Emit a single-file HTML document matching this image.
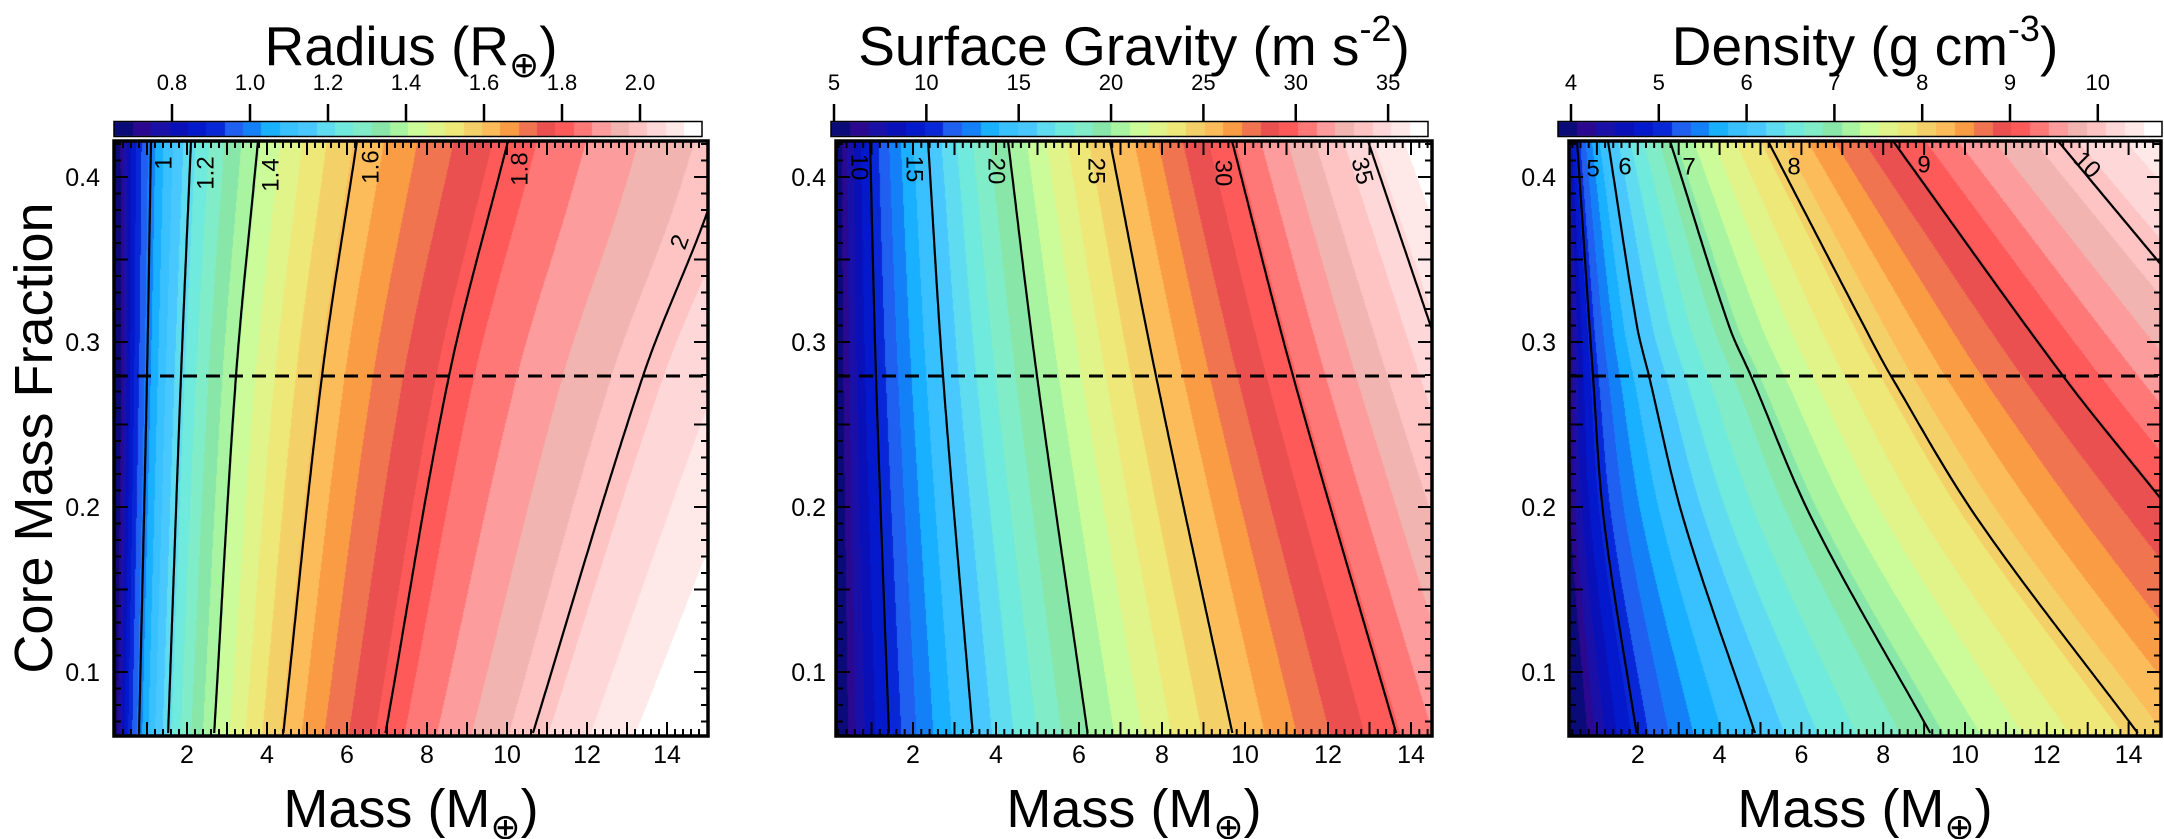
<!DOCTYPE html>
<html><head><meta charset="utf-8"><style>
html,body{margin:0;padding:0;background:#fff;}
#wrap{position:relative;width:2164px;height:839px;overflow:hidden;}
canvas,svg{position:absolute;left:0;top:0;}
text{font-family:"Liberation Sans",sans-serif;fill:#000;}
</style></head><body>
<div id="wrap">
<canvas id="cv" width="2164" height="839"></canvas>
<svg id="sv" width="2164" height="839" xmlns="http://www.w3.org/2000/svg">
<defs>
<clipPath id="c1"><rect x="114" y="141" width="594" height="595"/></clipPath>
<clipPath id="c2"><rect x="836" y="141" width="596" height="595"/></clipPath>
<clipPath id="c3"><rect x="1569" y="141" width="592" height="595"/></clipPath>
</defs>
<g id="g"></g>
<text x="411" y="65" font-size="55" text-anchor="middle">Radius (R<tspan font-size="36" dy="12">⊕</tspan><tspan dy="-12">)</tspan></text>
<text x="1134" y="65" font-size="55" text-anchor="middle">Surface Gravity (m s<tspan font-size="36" dy="-24">-2</tspan><tspan dy="24">)</tspan></text>
<text x="1865" y="65" font-size="55" text-anchor="middle">Density (g cm<tspan font-size="36" dy="-24">-3</tspan><tspan dy="24">)</tspan></text>
<text x="411" y="827" font-size="54" text-anchor="middle">Mass (M<tspan font-size="36" dy="12">⊕</tspan><tspan dy="-12">)</tspan></text>
<text x="1134" y="827" font-size="54" text-anchor="middle">Mass (M<tspan font-size="36" dy="12">⊕</tspan><tspan dy="-12">)</tspan></text>
<text x="1865" y="827" font-size="54" text-anchor="middle">Mass (M<tspan font-size="36" dy="12">⊕</tspan><tspan dy="-12">)</tspan></text>
<text transform="translate(52,438) rotate(-90)" font-size="54" text-anchor="middle">Core Mass Fraction</text>
</svg>
</div>
<script>
var COLS=["#0a0a78","#2a0890","#1a10a8","#0a10b8","#0418cc","#0828d8","#2060f0","#1480f8","#18b0ff","#38c0ff","#48c8ff","#60dcf0","#70eadc","#80ecc8","#88e6a8","#a8f4a0","#ccfc9a","#e0f48a","#eee878","#f4d068","#fcbc5a","#fa9c44","#f07450","#ea5050","#fe5a5a","#fe7878","#fc9c9c","#f2b4b0","#fec4c4","#fed8d8","#fee8e8","#ffffff"];
function hex(c){return [parseInt(c.substr(1,2),16),parseInt(c.substr(3,2),16),parseInt(c.substr(5,2),16)];}
var RGB=COLS.map(hex);
var N=COLS.length;
var P=[
 {x0:114,x1:708,cb0:114,cb1:702,vmin:0.65,vmax:2.16,p:3.7,mx0:107,ms:40,ylx:100,
  cbt:[[0.8,172],[1.0,250],[1.2,328],[1.4,406],[1.6,484],[1.8,562],[2.0,640]],cbl:["0.8","1.0","1.2","1.4","1.6","1.8","2.0"],
  con:[[1,[[141,151],[376,147],[736,139]]],[1.2,[[141,191],[376,181],[736,168]]],[1.4,[[141,258],[376,236],[736,214]]],[1.6,[[141,357],[376,322],[736,283]]],[1.8,[[141,508],[376,449],[736,385]]],[2,[[141,731],[224,703],[376,643],[736,532]]]],
  labs:[["1",164,163,-90],["1.2",206,173,-90],["1.4",271,175,-90],["1.6",371,167,-90],["1.8",520,169,-90],["2",680,242,-70]]},
 {x0:836,x1:1432,cb0:831,cb1:1428,vmin:4.84,vmax:37.2,p:2.17,mx0:830,ms:41.5,ylx:826,
  cbt:[],cbl:[],
  con:[[10,[[141,870],[376,876],[736,889]]],[15,[[141,928],[376,943],[736,973]]],[20,[[141,1008],[376,1037],[736,1088]]],[25,[[141,1110],[376,1156],[736,1233]]],[30,[[141,1232],[376,1293],[736,1397]]],[35,[[141,1368],[318,1428],[736,1570]]]],
  labs:[["10",859,167,90],["15",914,169,90],["20",996,171,90],["25",1096,171,90],["30",1223,173,90],["35",1362,171,75]]},
 {x0:1569,x1:2161,cb0:1558,cb1:2162,vmin:3.85,vmax:10.74,p:5.2,mx0:1556,ms:40.9,ylx:1556,
  cbt:[],cbl:[],
  con:[[5,[[141,1577],[376,1593],[521,1604],[736,1637]]],[6,[[141,1608],[326,1637],[376,1649],[521,1684],[736,1756]]],[7,[[141,1670],[326,1729],[376,1751],[521,1813],[736,1932]]],[8,[[141,1768],[326,1864],[376,1891],[521,1979],[736,2140]]],[9,[[141,1893],[376,2063],[494,2157],[736,2350]]],[10,[[141,2058],[267,2163],[736,2555]]]],
  labs:[["5",1593,169,0],["6",1625,167,0],["7",1689,167,0],["8",1794,167,0],["9",1924,165,0],["10",2087,165,45]]}
];
for(var v=5;v<=35;v+=5){P[1].cbt.push([v,834+(v-5)*18.47]);P[1].cbl.push(""+v);}
for(var v=4;v<=10;v++){P[2].cbt.push([v,1571+(v-4)*87.8]);P[2].cbl.push(""+v);}
// smooth with monotone cubic (Catmull-Rom) in y
function cx(pts,y){
 var n=pts.length,i=0;
 for(i=0;i<n-2;i++){if(y<=pts[i+1][0])break;}
 var a=pts[i],b=pts[i+1];
 var t=(y-a[0])/(b[0]-a[0]);
 if(n<3||t<0||t>1)return a[1]+(b[1]-a[1])*t;
 function slope(k){
  if(k==0)return (pts[1][1]-pts[0][1])/(pts[1][0]-pts[0][0]);
  if(k==n-1)return (pts[n-1][1]-pts[n-2][1])/(pts[n-1][0]-pts[n-2][0]);
  return (pts[k+1][1]-pts[k-1][1])/(pts[k+1][0]-pts[k-1][0]);
 }
 var h=b[0]-a[0],m0=slope(i)*h,m1=slope(i+1)*h;
 var t2=t*t,t3=t2*t;
 return (2*t3-3*t2+1)*a[1]+(t3-2*t2+t)*m0+(-2*t3+3*t2)*b[1]+(t3-t2)*m1;
}
var cv=document.getElementById('cv'),ctx=cv.getContext('2d');
var img=ctx.createImageData(2164,839),d=img.data;
function put(x,y,c){var k=(y*2164+x)*4;d[k]=c[0];d[k+1]=c[1];d[k+2]=c[2];d[k+3]=255;}
P.forEach(function(pn){
 var p=pn.p;
 for(var y=141;y<736;y++){
  var xs=[],gs=[];
  pn.con.forEach(function(c){xs.push(cx(c[1],y+0.5));gs.push(Math.pow(c[0],p));});
  for(var x=pn.x0;x<pn.x1;x++){
   var X=x+0.5,i;
   if(X<=xs[0])i=0;else{i=xs.length-2;for(var j=0;j<xs.length-1;j++){if(X<xs[j+1]){i=j;break;}}}
   var g=gs[i]+(gs[i+1]-gs[i])*(X-xs[i])/(xs[i+1]-xs[i]);
   var v=g>0?Math.pow(g,1/p):0;
   var b=Math.floor((v-pn.vmin)/(pn.vmax-pn.vmin)*N);
   b=Math.max(0,Math.min(N-1,b));
   put(x,y,RGB[b]);
  }
 }
 for(var x=pn.cb0;x<pn.cb1;x++){
  var b=Math.floor((x-pn.cb0)/(pn.cb1-pn.cb0)*N);b=Math.min(N-1,b);
  for(var y=122;y<136;y++)put(x,y,RGB[b]);
 }
});
ctx.putImageData(img,0,0);
var s='';
P.forEach(function(pn,k){
 var cl='url(#c'+(k+1)+')';
 pn.con.forEach(function(c){
  var pts=[];
  for(var y=141;y<=736;y+=4)pts.push(cx(c[1],y).toFixed(1)+','+y);
  s+='<polyline clip-path="'+cl+'" fill="none" stroke="#000" stroke-width="2.2" points="'+pts.join(' ')+'"/>';
 });
 pn.labs.forEach(function(l){
  s+='<text font-size="24" text-anchor="middle" dominant-baseline="central" transform="translate('+l[1]+','+l[2]+') rotate('+l[3]+')">'+l[0]+'</text>';
 });
 s+='<line x1="'+pn.x0+'" x2="'+pn.x1+'" y1="376" y2="376" stroke="#000" stroke-width="3" stroke-dasharray="14 9"/>';
 for(var m=0;m<=16.001;m+=0.2){
  var x=pn.mx0+m*pn.ms; if(x<pn.x0+2||x>pn.x1-2)continue;
  var mj=Math.abs(m-Math.round(m))<0.01; var L=mj?14:7;
  s+='<line x1="'+x+'" x2="'+x+'" y1="736" y2="'+(736-L)+'" stroke="#000" stroke-width="2"/>';
  s+='<line x1="'+x+'" x2="'+x+'" y1="141" y2="'+(141+L)+'" stroke="#000" stroke-width="2"/>';
  var r=Math.round(m); if(mj&&r%2==0&&r>0)s+='<text x="'+x+'" y="763" font-size="25" text-anchor="middle">'+r+'</text>';
 }
 for(var c=7;c<=42;c++){
  var y=672-(c/100-0.1)*1650; if(y<143||y>734)continue;
  var L=(c%5==0)?14:7;
  s+='<line x1="'+pn.x0+'" x2="'+(pn.x0+L)+'" y1="'+y+'" y2="'+y+'" stroke="#000" stroke-width="2"/>';
  s+='<line x1="'+pn.x1+'" x2="'+(pn.x1-L)+'" y1="'+y+'" y2="'+y+'" stroke="#000" stroke-width="2"/>';
  if(c%10==0)s+='<text x="'+pn.ylx+'" y="'+(y+9)+'" font-size="25" text-anchor="end">0.'+(c/10)+'</text>';
 }
 s+='<rect x="'+pn.x0+'" y="141" width="'+(pn.x1-pn.x0)+'" height="595" fill="none" stroke="#000" stroke-width="3.5"/>';
 s+='<rect x="'+pn.cb0+'" y="121.5" width="'+(pn.cb1-pn.cb0)+'" height="15" fill="none" stroke="#000" stroke-width="1.5"/>';
 pn.cbt.forEach(function(t,i){
  s+='<line x1="'+t[1]+'" x2="'+t[1]+'" y1="104" y2="121" stroke="#000" stroke-width="2.5"/>';
  s+='<text x="'+t[1]+'" y="90" font-size="22" text-anchor="middle">'+pn.cbl[i]+'</text>';
 });
});
document.getElementById('g').innerHTML=s;
</script>
</body></html>
